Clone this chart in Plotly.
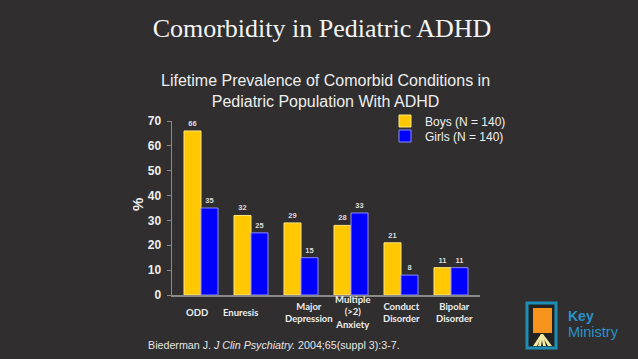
import plotly.graph_objects as go

categories = ["ODD", "Enuresis", "Major<br>Depression", "Multiple<br>(>2)<br>Anxiety", "Conduct<br>Disorder", "Bipolar<br>Disorder"]
boys = [66, 32, 29, 28, 21, 11]
girls = [35, 25, 15, 33, 8, 11]
y_ticks = [0, 10, 20, 30, 40, 50, 60, 70]
label_shift = [-4, -11, 8, 2, 0, 3]

W, H = 638, 359
L, R, T, B = 172, 480, 121, 295
BG = "#302e2f"


def px(x):
    return (x - L) / (R - L)


def py(y):
    return (B - y) / (B - T)


cat_idx = list(range(len(categories)))
val_font = dict(family="Liberation Sans", size=7.5, color="#dddddd", weight="bold")

fig = go.Figure()
fig.add_trace(go.Bar(
    x=cat_idx, y=boys, name="Boys (N = 140)", legend="legend",
    marker=dict(color="#ffc800", line=dict(color="#ffe680", width=1)),
    text=boys, textposition="outside", textfont=val_font, cliponaxis=False,
))
fig.add_trace(go.Bar(
    x=cat_idx, y=girls, name="Girls (N = 140)", legend="legend2",
    marker=dict(color="#0000ff", line=dict(color="#8c8cff", width=1)),
    text=girls, textposition="outside", textfont=val_font, cliponaxis=False,
))

annotations = []
for i, (c, s) in enumerate(zip(categories, label_shift)):
    annotations.append(dict(
        x=i, xref="x", y=py(312), yref="paper", text="<b>" + c + "</b>",
        showarrow=False, xanchor="center", yanchor="middle", xshift=s,
        font=dict(family="Lato", size=9.5, color="#eeeeee"),
    ))

annotations += [
    dict(x=px(325), y=py(90.5), xref="paper", yref="paper",
         text="Lifetime Prevalence of Comorbid Conditions in<br>Pediatric Population With ADHD",
         showarrow=False, xanchor="center", yanchor="middle",
         font=dict(family="Liberation Sans", size=16, color="#eeeeee")),
    dict(x=px(137), y=py(205), xref="paper", yref="paper", text="<b>%</b>",
         textangle=-90, showarrow=False, xanchor="center", yanchor="middle",
         font=dict(family="Liberation Sans", size=15, color="#eeeeee")),
    dict(x=px(146), y=py(345), xref="paper", yref="paper",
         text="Biederman J. <i>J Clin Psychiatry.</i> 2004;65(suppl 3):3-7.",
         showarrow=False, xanchor="left", yanchor="middle",
         font=dict(family="Liberation Sans", size=10.7, color="#e6e6e6")),
    dict(x=px(566), y=py(316), xref="paper", yref="paper", text="<b>Key</b>",
         showarrow=False, xanchor="left", yanchor="middle",
         font=dict(family="Liberation Sans", size=14, color="#2a93c6")),
    dict(x=px(566), y=py(332), xref="paper", yref="paper", text="Ministry",
         showarrow=False, xanchor="left", yanchor="middle",
         font=dict(family="Liberation Sans", size=14.5, color="#2a93c6")),
]

shapes = [
    dict(type="rect", xref="paper", yref="paper", x0=px(527), x1=px(556), y0=py(303), y1=py(348),
         line=dict(color="#1f8fb5", width=3), fillcolor="#222222", layer="above"),
    dict(type="rect", xref="paper", yref="paper", x0=px(533), x1=px(552), y0=py(308), y1=py(333),
         line=dict(width=0), fillcolor="#f7941d", layer="above"),
]
ray_x = [(533, 537), (538, 541), (543, 546), (548, 552)]
for a, b in ray_x:
    y0, y1 = py(334), py(346)
    shapes.append(dict(type="path", xref="paper", yref="paper", layer="above",
                       path=f"M {px(541)} {y0} L {px(543)} {y0} L {px(b)} {y1} L {px(a)} {y1} Z",
                       fillcolor="#f3e9a0", line=dict(width=0)))

leg_common = dict(xanchor="left", yanchor="middle", bgcolor="rgba(0,0,0,0)",
                  font=dict(family="Liberation Sans", size=12, color="#f0f0f0"),
                  borderwidth=0)

fig.update_layout(
    width=W, height=H,
    paper_bgcolor=BG, plot_bgcolor=BG,
    margin=dict(l=L, r=W - R, t=T, b=H - B, pad=0),
    barmode="group", bargap=0.32, bargroupgap=0,
    title=dict(text="Comorbidity in Pediatric ADHD", x=322 / W, xanchor="center",
               y=1 - 28 / H, yanchor="middle",
               font=dict(family="Liberation Serif", size=26, color="#f4f4f4")),
    xaxis=dict(range=[-0.58, 5.58], showticklabels=False, ticks="", showgrid=False,
               zeroline=False, showline=True, linecolor="#8a8a8a", linewidth=1.5,
               tickvals=cat_idx),
    yaxis=dict(range=[0, 70], tickvals=y_ticks, ticks="outside", ticklen=4,
               tickcolor="#8a8a8a", showgrid=False, zeroline=False, showline=True,
               linecolor="#8a8a8a", linewidth=1.5, ticklabelstandoff=3,
               tickfont=dict(family="Liberation Sans", size=12, color="#eeeeee",
                             weight="bold")),
    legend=dict(x=px(385), y=py(121), **leg_common),
    legend2=dict(x=px(385), y=py(136), **leg_common),
    showlegend=True,
    hovermode=False,
    annotations=annotations,
    shapes=shapes,
)

fig.write_html("out.html", config={"displayModeBar": False, "staticPlot": True},
               post_script="document.body.style.margin='0';")
